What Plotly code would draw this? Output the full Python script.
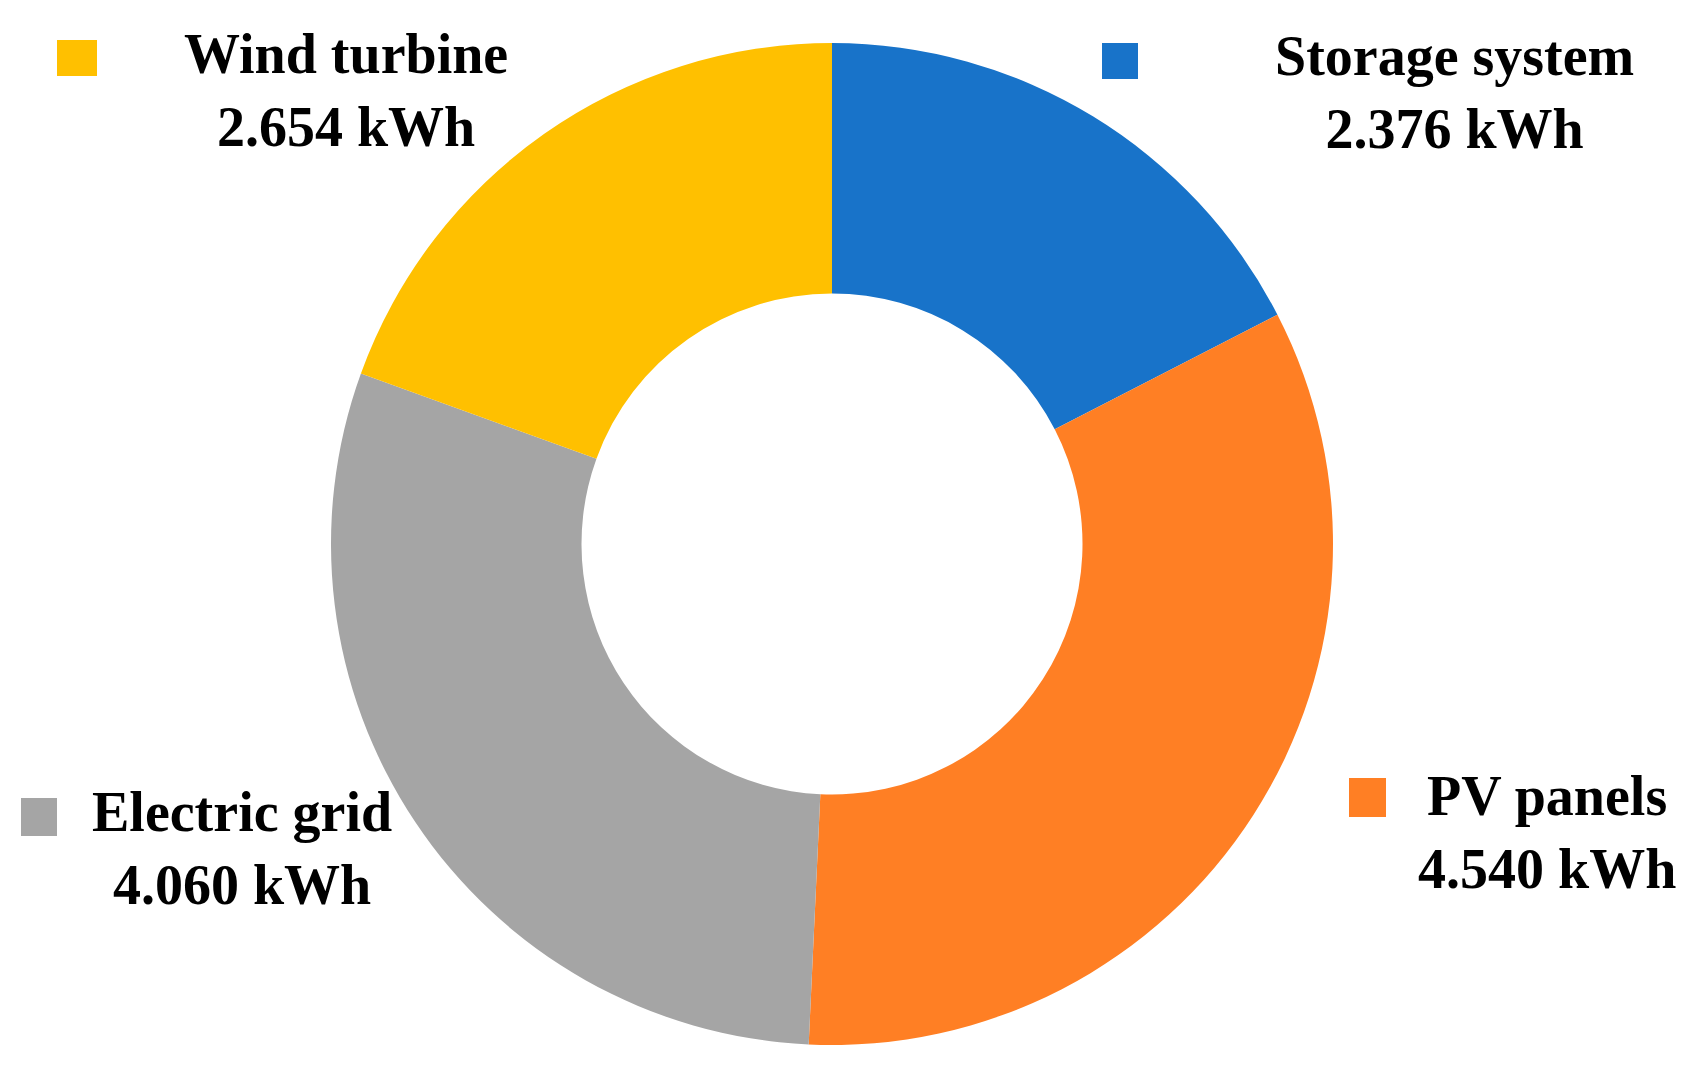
import plotly.graph_objects as go

# データ（時計回り、12時から）
labels = ['Storage system', 'PV panels', 'Electric grid', 'Wind turbine']
values = [2.376, 4.540, 4.060, 2.654]
colors = ['#1873C9', '#FF7F24', '#A5A5A5', '#FFC000']

W, H = 1702, 1081
OFF = 8  # ページのbody marginぶんのずれ

def px(x):
    return (x - OFF) / W

def py(y):
    return 1 - (y - OFF) / H

# ドーナツの中心と半径(ピクセル)
cx, cy, R = 832, 544, 501

fig = go.Figure(go.Pie(
    labels=labels, values=values, sort=False, direction='clockwise', rotation=0,
    hole=0.5, textinfo='none', hoverinfo='label+value',
    marker=dict(colors=colors, line=dict(width=0)),
    domain=dict(x=[px(cx - R), px(cx + R)], y=[py(cy + R), py(cy - R)]),
    showlegend=False
))

# ラベル位置: (テキスト中心x, テキスト中心y, 四角 x0, y0, x1, y1)
label_pos = {
    'Wind turbine': (346, 90, 57, 40, 97, 76),
    'Storage system': (1454, 93, 1102, 43, 1138, 79),
    'Electric grid': (242, 848, 21, 798, 57, 836),
    'PV panels': (1547, 832, 1349, 778, 1386, 817),
}

for name, val, col in zip(labels, values, colors):
    tx, ty, x0, y0, x1, y1 = label_pos[name]
    fig.add_annotation(
        x=px(tx), y=py(ty), xref='paper', yref='paper',
        text=f'<b>{name}<br>{val:.3f} kWh</b>', showarrow=False,
        xanchor='center', yanchor='middle', align='center',
        font=dict(family='Liberation Serif', size=56, color='black')
    )
    fig.add_shape(type='rect', xref='paper', yref='paper',
                  x0=px(x0), x1=px(x1), y0=py(y1), y1=py(y0),
                  fillcolor=col, line=dict(width=0))

fig.update_layout(
    width=W, height=H, margin=dict(l=0, r=0, t=0, b=0),
    paper_bgcolor='white', plot_bgcolor='white'
)

fig.write_html('out.html')
